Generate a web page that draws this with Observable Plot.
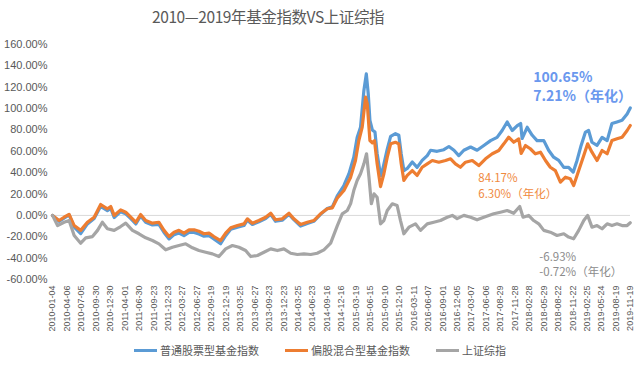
<!DOCTYPE html>
<html><head><meta charset="utf-8">
<script src="https://cdn.jsdelivr.net/npm/d3@7"></script>
<script src="https://cdn.jsdelivr.net/npm/@observablehq/plot@0.6"></script>
<style>
body{margin:0;background:#fff;width:640px;height:372px;overflow:hidden;position:relative;font-family:"Noto Sans CJK SC",sans-serif;}
#title{position:absolute;left:0;top:0;width:640px;height:32px;line-height:32px;font-size:15.5px;color:#595959;padding-left:152px;box-sizing:border-box;letter-spacing:-0.4px;white-space:nowrap;}
#chart{position:absolute;left:0;top:32px;}
#legend{position:absolute;left:0;top:340px;width:640px;height:20px;display:flex;justify-content:center;align-items:center;font-size:11px;color:#595959;}
.item{display:flex;align-items:center;margin:0 13px;}
.sw{width:23px;height:3px;margin-right:3px;}
</style></head><body>
<div id="title">2010—2019年基金指数VS上证综指</div>
<div id="chart"></div>
<div id="legend"></div>
<script>
// x tick labels (every ~60 trading days)
const tickLabels = ["2010-01-04","2010-04-06","2010-07-05","2010-09-30","2010-12-30","2011-04-01","2011-06-30","2011-09-23","2011-12-23","2012-03-27","2012-06-27","2012-09-19","2012-12-19","2013-03-25","2013-06-27","2013-09-23","2013-12-23","2014-03-25","2014-06-23","2014-09-16","2014-12-16","2015-03-19","2015-06-15","2015-09-10","2015-12-10","2016-03-11","2016-06-07","2016-09-01","2016-12-05","2017-03-07","2017-06-06","2017-08-29","2017-11-28","2018-02-28","2018-05-29","2018-08-22","2018-11-22","2019-02-25","2019-05-24","2019-08-19","2019-11-19"];

const seriesNames = ["普通股票型基金指数","偏股混合型基金指数","上证综指"];

// 普通股票型基金指数 (trading-day index, cumulative return %)
const stockDays = [0,27,48,69,90,117,145,173,200,228,242,256,283,304,325,346,366,387,415,442,463,484,505,525,546,567,588,608,629,650,670,698,719,740,768,795,809,830,857,885,906,926,954,982,1002,1030,1058,1085,1113,1141,1162,1182,1210,1231,1251,1265,1279,1293,1303,1311,1318,1328,1339,1348,1359,1365,1376,1390,1404,1424,1438,1448,1459,1473,1494,1514,1535,1556,1570,1597,1625,1646,1667,1687,1708,1736,1763,1791,1819,1846,1867,1888,1909,1930,1944,1950,1971,1992,2012,2040,2060,2081,2102,2123,2143,2162,2178,2195,2213,2226,2240,2261,2282,2303,2323,2344,2365,2386,2399];
const stockVals = [0,-5.5,-2.5,0.5,-11,-17,-8,-3,8.5,4.5,6.5,-2,3.5,1.5,-3,-8,-0.5,-6.5,-9,-8.5,-16,-22,-18,-16.5,-19,-16,-16,-17.5,-19.5,-19,-22,-26.5,-19,-13,-11,-9.5,-4.5,-8.5,-6,-3,1,-5.5,-4.5,1,-4,-10,-7.5,-5.5,1,6.5,8,18,28,39,54.5,73,82.5,117,132.5,114,89,80,78,58,42,37,48,62,74,76.5,75,57.5,42,44,50,45,51.5,56,61,60,61.5,64.5,61,56,61,64,61,65.5,70,73,79.5,87.5,79.5,84,86,72,82.5,75,70,70,61,54.5,51.5,45,45,40.5,51.5,65.5,78,79.5,68.5,65.5,73,70,86,87.5,89,95,100.65];

// 偏股混合型基金指数
const mixedDays = [0,27,48,69,90,117,145,173,200,228,242,256,283,304,325,346,366,387,415,442,463,484,505,525,546,567,588,608,629,650,670,698,719,740,768,795,809,830,857,885,906,926,954,982,1002,1030,1058,1085,1113,1141,1162,1182,1210,1238,1258,1272,1286,1300,1307,1318,1328,1337,1348,1362,1376,1390,1404,1424,1438,1448,1459,1473,1494,1514,1535,1556,1577,1604,1632,1653,1673,1694,1715,1743,1770,1798,1826,1853,1874,1894,1915,1936,1946,1964,1984,2005,2026,2047,2067,2088,2109,2130,2150,2164,2185,2206,2222,2240,2261,2282,2303,2323,2344,2365,2386,2399];
const mixedVals = [0,-4.8,-1.7,1,-9.5,-14,-6.4,-1.7,10.2,6.2,8.3,0,5.2,3,-1.7,-6.4,0.8,-4.8,-7.3,-6.4,-14,-19.8,-15.7,-14,-16.6,-13.5,-13.5,-14.8,-17.2,-16.6,-19.8,-23.5,-16.6,-11.6,-9.5,-7.9,-3.2,-7.3,-4.8,-1.7,2,-4.1,-3.2,2,-3.2,-8.5,-6.4,-4.8,1.5,6.2,7.1,16,23.3,35.8,51.4,70.1,82.6,110.7,104.5,70.1,68,70,48.3,27,39,54.5,67,68.5,67,48.3,32.7,37.4,42,37.4,45.1,48.3,51.4,49.8,51.4,53,48.3,45.1,49.8,51.4,46.7,53,57.7,60.8,67,73.2,68.5,71.7,58,65.4,62.4,57.7,59.2,51.4,45.1,42,31.1,35.8,34.3,28,42,56.1,67,59.2,51.4,60.8,57.7,70.1,71.7,73.2,79.5,84.17];

// 上证综指
const shDays = [0,21,48,69,90,117,138,166,187,207,228,256,283,304,332,359,387,415,442,470,498,525,553,581,608,636,664,691,719,747,774,802,823,851,878,906,934,961,989,1017,1044,1072,1099,1127,1155,1182,1203,1224,1238,1251,1265,1279,1293,1304,1314,1324,1335,1348,1362,1376,1390,1411,1431,1445,1459,1480,1507,1528,1556,1583,1611,1639,1660,1680,1708,1736,1763,1791,1832,1860,1888,1915,1940,1954,1977,1998,2019,2040,2067,2095,2123,2143,2164,2185,2206,2222,2240,2261,2282,2303,2323,2344,2365,2386,2399];
const shVals = [0,-9.5,-6.4,-4.8,-18.8,-26,-21,-19.8,-14,-6.4,-12.5,-14,-10.4,-7.3,-14,-17.2,-21,-23.5,-26.6,-32.2,-29.8,-28.2,-26.6,-30.3,-32.9,-34.5,-36,-38.5,-31.3,-28.2,-29.8,-32.9,-38.5,-37.5,-34.5,-31.3,-32.9,-31.3,-35.4,-36.6,-36,-36.6,-35.4,-32.2,-26,-10,1.5,4.6,11,23.3,32.7,39,48.3,57.7,35.8,10.9,20.2,17,-7.9,-4.8,4.6,10.9,9.3,-4.8,-17.2,-11,-7.9,-14,-7.9,-6.4,-4.8,-1.7,0,-3,0,-1.7,-4.1,-1.7,1.5,3,4.6,2,8.3,-1.7,0,-4.8,-7.9,-14,-15.7,-18.8,-17.2,-20.3,-21.9,-14,-4.8,0,-11,-9.5,-12.5,-7.9,-9.5,-7.9,-9.5,-9.5,-6.93];

const annoLines = [["100.65%","7.21%（年化）"],["84.17%","6.30%（年化）"],["-6.93%","-0.72%（年化）"]];

const colors = ["#5B9BD5","#ED7D31","#A5A5A5"];
const textColors = ["#6A98EE","#F08A3E","#8C8C8C"];

const mk = (days, vals) => days.map((d, i) => ({day: d, v: vals[i]}));
const sStock = mk(stockDays, stockVals);
const sMixed = mk(mixedDays, mixedVals);
const sSh = mk(shDays, shVals);
const lastOf = a => [a[a.length - 1]];

const tickDays = tickLabels.map((_, i) => i * 60);

// annotation: two separate text lines anchored to a series' final point
const anno = (series, lines, color, size, weight, dx, dy, gap) => [
  Plot.text(lastOf(series), {x: "day", y: "v", text: () => lines[0], dx, dy: dy - gap / 2, textAnchor: "start", fill: color, fontSize: size, fontWeight: weight, fontFamily: "Noto Sans CJK SC"}),
  Plot.text(lastOf(series), {x: "day", y: "v", text: () => lines[1], dx, dy: dy + gap / 2, textAnchor: "start", fill: color, fontSize: size, fontWeight: weight, fontFamily: "Noto Sans CJK SC"})
];

const chart = Plot.plot({
  width: 640,
  height: 305,
  marginLeft: 52,
  marginRight: 10,
  marginTop: 12,
  marginBottom: 58,
  style: {background: "transparent", overflow: "visible"},
  x: {domain: [0, 2400]},
  y: {domain: [-60, 160]},
  marks: [
    Plot.ruleY([0], {stroke: "#D9D9D9", strokeWidth: 1}),
    Plot.axisY({ticks: d3.range(-60, 161, 20), tickFormat: d => d.toFixed(2) + "%", tickSize: 0, tickPadding: 5, fontSize: 11, fontFamily: "Liberation Sans", fill: "#595959", label: null}),
    Plot.axisX({ticks: tickDays, tickFormat: d => tickLabels[Math.round(d / 60)], tickRotate: -90, tickSize: 0, tickPadding: 6, fontSize: 9, fontFamily: "Liberation Sans", fill: "#595959", label: null}),
    Plot.line(sStock, {x: "day", y: "v", stroke: colors[0], strokeWidth: 3.2, strokeLinejoin: "round"}),
    Plot.line(sMixed, {x: "day", y: "v", stroke: colors[1], strokeWidth: 3.2, strokeLinejoin: "round"}),
    Plot.line(sSh, {x: "day", y: "v", stroke: colors[2], strokeWidth: 3.2, strokeLinejoin: "round"}),
    ...anno(sStock, annoLines[0], textColors[0], 14, "bold", -97, -21, 19),
    ...anno(sMixed, annoLines[1], textColors[1], 11.5, "normal", -152, 61, 15.8),
    ...anno(sSh, annoLines[2], textColors[2], 11.5, "normal", -91, 42, 15.8)
  ]
});
document.getElementById("chart").appendChild(chart);

const legend = document.getElementById("legend");
seriesNames.forEach((name, i) => {
  const it = document.createElement("div");
  it.className = "item";
  const sw = document.createElement("div");
  sw.className = "sw";
  sw.style.background = colors[i];
  const t = document.createElement("span");
  t.textContent = name;
  it.appendChild(sw); it.appendChild(t);
  legend.appendChild(it);
});
</script>
</body></html>
